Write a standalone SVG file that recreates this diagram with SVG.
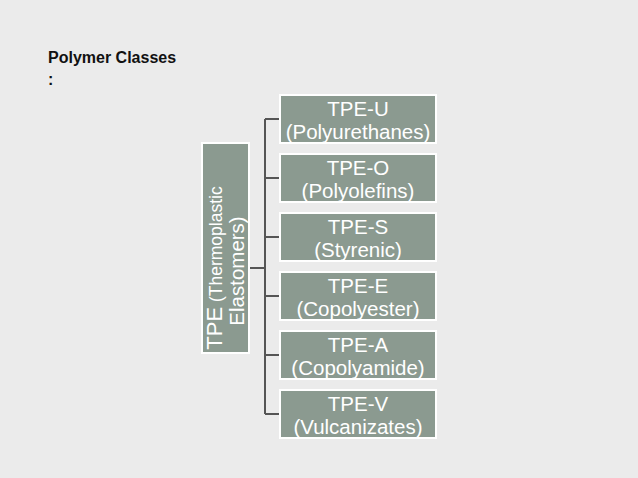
<svg xmlns="http://www.w3.org/2000/svg" width="638" height="478" viewBox="0 0 638 478">
<style>
.b{fill:#8b9a90;stroke:#fff;stroke-width:2}
.t{font-family:"Liberation Sans",Arial,sans-serif;fill:#fff;font-size:20.5px;text-anchor:middle}
.c{stroke:#555;stroke-width:2;fill:none}
</style>
<rect width="638" height="478" fill="#ebebeb"/>
<g id="title" font-family="Liberation Sans,Arial,sans-serif" font-weight="bold" font-size="16" fill="#111">
<text x="48" y="63">Polymer Classes</text><text x="48" y="85">:</text></g>
<g id="connectors" class="c">
<path d="M249 268H265M265 119V414M265 119H280M265 178H280M265 237H280M265 296H280M265 355H280M265 414H280"/>
</g>
<g id="root"><rect class="b" x="202" y="143" width="47" height="210"/>
<text class="t" transform="translate(222,268) rotate(-90)"><tspan font-size="22">TPE</tspan><tspan font-size="17.5"> (Thermoplastic</tspan></text>
<text class="t" font-size="17.5" transform="translate(244,271) rotate(-90)">Elastomers)</text></g>
<g id="n1"><rect class="b" x="280" y="95" width="156" height="48"/><text class="t" x="358" y="116">TPE-U</text><text class="t" x="358" y="139">(Polyurethanes)</text></g>
<g id="n2"><rect class="b" x="280" y="154" width="156" height="48"/><text class="t" x="358" y="175">TPE-O</text><text class="t" x="358" y="198">(Polyolefins)</text></g>
<g id="n3"><rect class="b" x="280" y="213" width="156" height="48"/><text class="t" x="358" y="234">TPE-S</text><text class="t" x="358" y="257">(Styrenic)</text></g>
<g id="n4"><rect class="b" x="280" y="272" width="156" height="48"/><text class="t" x="358" y="293">TPE-E</text><text class="t" x="358" y="316">(Copolyester)</text></g>
<g id="n5"><rect class="b" x="280" y="331" width="156" height="48"/><text class="t" x="358" y="352">TPE-A</text><text class="t" x="358" y="375">(Copolyamide)</text></g>
<g id="n6"><rect class="b" x="280" y="390" width="156" height="48"/><text class="t" x="358" y="411">TPE-V</text><text class="t" x="358" y="434">(Vulcanizates)</text></g>
</svg>
